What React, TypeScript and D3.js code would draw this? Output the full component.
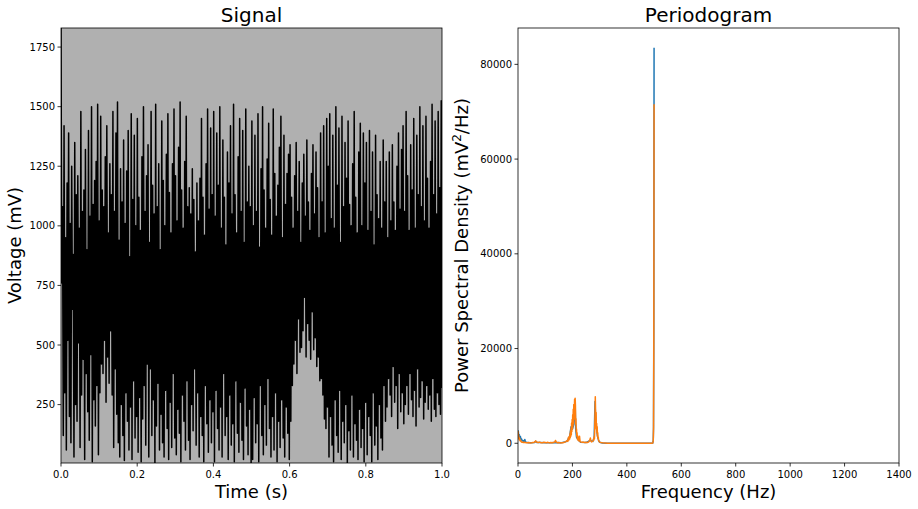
import React from "react";
import * as d3 from "d3";

// ---------- Signal data (sampled every 2 ms, 0 – 1 s) ----------
const voltage: number[] = [
  // 0.0 – 0.1 s
  1830,760, 1080,120, 1420,300, 950,60, 1180,520, 1390,200, 1010,90, 1250,650, 880,30, 1350,250, 1130,180, 1210,510, 990,70, 1480,290, 1060,440, 1150,20, 1320,380, 900,220, 1400,100, 1040,460, 1500,10, 1090,270, 1190,160, 1270,330, 1510,40,
  // 0.1 – 0.2 s
  1020,300, 1460,420, 1150,380, 1080,520, 1290,260, 1420,450, 970,340, 1260,560, 1130,290, 1480,70, 1060,400, 1390,210, 1520,90, 940,30, 1240,250, 1100,120, 1360,15, 1010,300, 1230,180, 1400,60, 870,240, 1470,20, 1110,350, 1380,110, 1000,200,
  // 0.2 – 0.3 s
  1450,50, 1120,280, 980,10, 1290,190, 1500,330, 1060,80, 1210,420, 1340,30, 930,400, 1480,120, 1170,270, 1050,5, 1510,160, 1080,340, 1260,60, 900,210, 1440,90, 1190,30, 1000,310, 1300,150, 1470,20, 1140,260, 970,70, 1260,380, 1490,110,
  // 0.3 – 0.4 s
  1210,40, 1020,230, 1330,130, 1520,10, 1150,290, 990,180, 1270,60, 1460,350, 1080,100, 1160,20, 1050,250, 1240,140, 1110,400, 890,80, 1180,300, 1020,30, 1200,200, 1450,120, 1120,10, 960,330, 1260,170, 1490,50, 1070,270, 1410,90, 1130,220,
  // 0.4 – 0.5 s
  1480,10, 1040,310, 1390,150, 1170,60, 1500,240, 990,30, 1360,380, 1120,120, 920,200, 1310,20, 1180,290, 1420,80, 1050,170, 1510,10, 1130,350, 970,130, 1290,50, 1450,260, 1060,100, 1400,20, 930,320, 1490,160, 1100,40, 1250,230, 1080,5,
  // 0.5 – 0.6 s
  1440,20, 1000,280, 1380,90, 1060,170, 1470,10, 910,330, 1240,120, 1500,40, 1150,250, 990,80, 1280,360, 1430,150, 1110,30, 960,200, 1490,60, 1220,300, 1040,10, 1170,180, 1330,70, 1460,270, 950,110, 1380,30, 1090,240, 1220,130, 1300,20,
  // 0.6 – 0.7 s
  1340,180, 1120,330, 990,420, 1210,520, 1350,380, 1060,610, 1270,470, 930,490, 1180,560, 1300,700, 1040,450, 1360,590, 1100,520, 980,440, 1220,640, 1340,480, 1050,530, 1310,410, 1160,450, 950,350, 1390,360, 1100,290, 1420,190, 970,150, 1450,240,
  // 0.7 – 0.8 s
  1250,30, 1470,200, 1030,80, 1380,10, 990,270, 1500,120, 1170,50, 1410,310, 930,20, 1460,180, 1080,90, 1350,250, 1200,5, 1440,140, 1090,60, 1000,290, 1260,30, 1480,170, 1120,100, 970,20, 1310,230, 1430,70, 1000,150, 1390,10, 1180,260,
  // 0.8 – 0.9 s
  1350,40, 980,200, 1400,120, 1060,10, 1310,300, 920,80, 1380,160, 1130,20, 1030,250, 1270,110, 990,60, 1360,330, 1100,180, 1270,240, 950,360, 1310,290, 1020,200, 1340,410, 1100,260, 980,330, 1250,150, 1390,380, 1070,220, 1320,300, 1420,170,
  // 0.9 – 1.0 s
  1060,250, 1480,330, 1210,210, 980,380, 1340,270, 1150,200, 1450,310, 990,160, 1380,400, 1130,240, 1500,280, 1080,350, 1420,190, 1020,260, 1460,330, 1200,230, 990,290, 1270,180, 1510,360, 1130,230, 1440,200, 1050,300, 1480,250, 1160,210, 1525,320,
];
const samplePeriod = 1 / (voltage.length - 1);

// ---------- Periodogram data ----------
const blueFreq: number[] = [0, 1, 3, 5, 7, 9, 11, 13, 15, 18, 20, 22, 25, 27, 30, 35, 40, 50, 60, 65, 70, 80, 100, 120, 140, 160, 180, 190, 195, 200, 205, 208, 210, 212, 215, 220, 230, 250, 265, 275, 280, 283, 285, 288, 292, 296, 300, 310, 330, 400, 490, 495, 497, 498, 499, 500];
const bluePower: number[] = [2200, 2600, 1500, 1800, 1100, 1400, 700, 900, 500, 600, 400, 300, 800, 400, 200, 150, 100, 120, 150, 400, 150, 150, 120, 120, 150, 100, 400, 1500, 3500, 3000, 4000, 7500, 8500, 3000, 1300, 800, 200, 150, 600, 400, 1300, 8800, 5500, 3500, 1500, 600, 200, 80, 20, 10, 20, 60, 600, 3500, 24000, 83500];

const orangeFreq: number[] = [
  0, 1, 2, 3, 4, 5, 6, 8, 10, 12, 15, 18, 20, 25, 30, 35, 40, 45, 50, 55, 60, 65, 67, 70, 75, 80, 85, 90, 95, 100,
  105, 110, 115, 120, 125, 130, 135, 138, 140, 145, 150, 155, 160, 165, 170, 175, 180, 183, 185, 187, 189, 190,
  191, 192, 193, 194, 195, 196, 197, 198, 199, 200, 201, 202, 203, 204, 205, 206, 207, 208, 209, 210, 211, 212,
  213, 214, 215, 216, 217, 218, 219, 220, 222, 224, 226, 228, 230, 235, 240, 245, 250, 255, 260, 264, 266, 268,
  270, 274, 277, 278, 279, 280, 281, 282, 283, 284, 285, 286, 287, 288, 289, 290, 291, 292, 293, 294, 295, 296,
  298, 300, 305, 310, 320, 330, 350, 400, 450, 490, 495, 497, 498, 499, 500,
];
const orangePower: number[] = [
  2600, 1500, 1800, 900, 1200, 700, 1000, 500, 600, 300, 200, 250, 150, 200, 120, 100, 150, 80, 100, 150, 200, 500, 300, 200, 150, 250, 100, 120, 200, 150,
  100, 200, 80, 150, 100, 180, 250, 600, 300, 100, 150, 80, 120, 100, 200, 300, 600, 400, 1200, 700, 1500, 900,
  2000, 1200, 2600, 1500, 3200, 1800, 4300, 2500, 5000, 3000, 6000, 3600, 7200, 4200, 8200, 5000, 7000, 9300, 6000, 9500, 8000, 4000,
  5200, 2400, 3000, 1500, 2200, 900, 1600, 700, 1300, 500, 1500, 400, 300, 200, 250, 150, 200, 150, 300, 700, 1100, 500,
  300, 400, 600, 1000, 700, 1500, 1000, 3200, 6000, 9800, 7000, 4800, 6500, 3000, 4200, 2200, 3500, 1500, 2200, 1000, 1300, 700,
  400, 250, 150, 100, 60, 30, 15, 10, 10, 20, 60, 500, 3000, 20000, 71600,
];

const xTicksSignal: number[] = [0, 0.2, 0.4, 0.6, 0.8, 1.0];
const yTicksSignal: number[] = [250, 500, 750, 1000, 1250, 1500, 1750];
const xTicksPsd: number[] = [0, 200, 400, 600, 800, 1000, 1200, 1400];
const yTicksPsd: number[] = [0, 20000, 40000, 60000, 80000];

const FONT = "DejaVu Sans, sans-serif";

export default function App() {
  const W = 918, H = 509;
  const top = 28, bottom = 463;

  // Signal panel
  const sL = 61, sR = 442;
  const sx = d3.scaleLinear().domain([0, 1]).range([sL, sR]);
  const [vMin, vMax] = d3.extent(voltage) as [number, number];
  const sy = d3.scaleLinear().domain([vMin, vMax]).range([bottom, top]);
  const sigLine = d3.line<number>().x((_, i) => sx(i * samplePeriod)).y((d) => sy(d));

  // Periodogram panel
  const pL = 518, pR = 899;
  const px = d3.scaleLinear().domain([0, 1400]).range([pL, pR]);
  const allP = bluePower.concat(orangePower);
  const pMin = d3.min(allP) as number, pMax = d3.max(allP) as number;
  const pad = (pMax - pMin) * 0.05;
  const py = d3.scaleLinear().domain([pMin - pad, pMax + pad]).range([bottom, top]);
  const blueLine = d3.line<number>().x((_, i) => px(blueFreq[i])).y((d) => py(d));
  const orangeLine = d3.line<number>().x((_, i) => px(orangeFreq[i])).y((d) => py(d));

  const fmt1 = d3.format(".1f");

  return (
    <div style={{ position: "absolute", left: 0, top: 0 }}>
      <svg width={W} height={H} style={{ display: "block", background: "#fff" }} fontFamily={FONT}>
        <defs>
          <clipPath id="clipS"><rect x={sL} y={top} width={sR - sL} height={bottom - top} /></clipPath>
          <clipPath id="clipP"><rect x={pL} y={top} width={pR - pL} height={bottom - top} /></clipPath>
        </defs>

        {/* ---------------- Signal ---------------- */}
        <rect x={sL} y={top} width={sR - sL} height={bottom - top} fill="#b0b0b0" />
        <path d={sigLine(voltage) || ""} fill="none" stroke="#000" strokeWidth={1.5} clipPath="url(#clipS)" strokeLinejoin="round" />
        <rect x={sL} y={top} width={sR - sL} height={bottom - top} fill="none" stroke="#000" strokeWidth={0.8} />
        {xTicksSignal.map((t) => (
          <g key={"sx" + t}>
            <line x1={sx(t)} x2={sx(t)} y1={bottom} y2={bottom + 3.5} stroke="#000" strokeWidth={0.8} />
            <text x={sx(t)} y={bottom + 15} fontSize={10} textAnchor="middle">{fmt1(t)}</text>
          </g>
        ))}
        {yTicksSignal.map((t) => (
          <g key={"sy" + t}>
            <line x1={sL - 3.5} x2={sL} y1={sy(t)} y2={sy(t)} stroke="#000" strokeWidth={0.8} />
            <text x={sL - 6} y={sy(t) + 3.5} fontSize={10} textAnchor="end">{t}</text>
          </g>
        ))}
        <text x={(sL + sR) / 2} y={22} fontSize={20} textAnchor="middle">Signal</text>
        <text x={(sL + sR) / 2} y={498} fontSize={18} textAnchor="middle">Time (s)</text>
        <text transform={`translate(21,${(top + bottom) / 2}) rotate(-90)`} fontSize={18} textAnchor="middle">Voltage (mV)</text>

        {/* ---------------- Periodogram ---------------- */}
        <g clipPath="url(#clipP)">
          <path d={blueLine(bluePower) || ""} fill="none" stroke="#1f77b4" strokeWidth={1.5} strokeLinejoin="round" />
          <path d={orangeLine(orangePower) || ""} fill="none" stroke="#ff7f0e" strokeWidth={1.5} strokeLinejoin="round" />
        </g>
        <rect x={pL} y={top} width={pR - pL} height={bottom - top} fill="none" stroke="#000" strokeWidth={0.8} />
        {xTicksPsd.map((t) => (
          <g key={"px" + t}>
            <line x1={px(t)} x2={px(t)} y1={bottom} y2={bottom + 3.5} stroke="#000" strokeWidth={0.8} />
            <text x={px(t)} y={bottom + 15} fontSize={10} textAnchor="middle">{t}</text>
          </g>
        ))}
        {yTicksPsd.map((t) => (
          <g key={"py" + t}>
            <line x1={pL - 3.5} x2={pL} y1={py(t)} y2={py(t)} stroke="#000" strokeWidth={0.8} />
            <text x={pL - 6} y={py(t) + 3.5} fontSize={10} textAnchor="end">{t}</text>
          </g>
        ))}
        <text x={(pL + pR) / 2} y={22} fontSize={20} textAnchor="middle">Periodogram</text>
        <text x={(pL + pR) / 2} y={498} fontSize={18} textAnchor="middle">Frequency (Hz)</text>
        <text transform={`translate(468,${(top + bottom) / 2}) rotate(-90)`} fontSize={18} textAnchor="middle">
          Power Spectral Density (mV<tspan fontSize={12} dy={-7}>2</tspan><tspan dy={7}>/Hz)</tspan>
        </text>
      </svg>
    </div>
  );
}
